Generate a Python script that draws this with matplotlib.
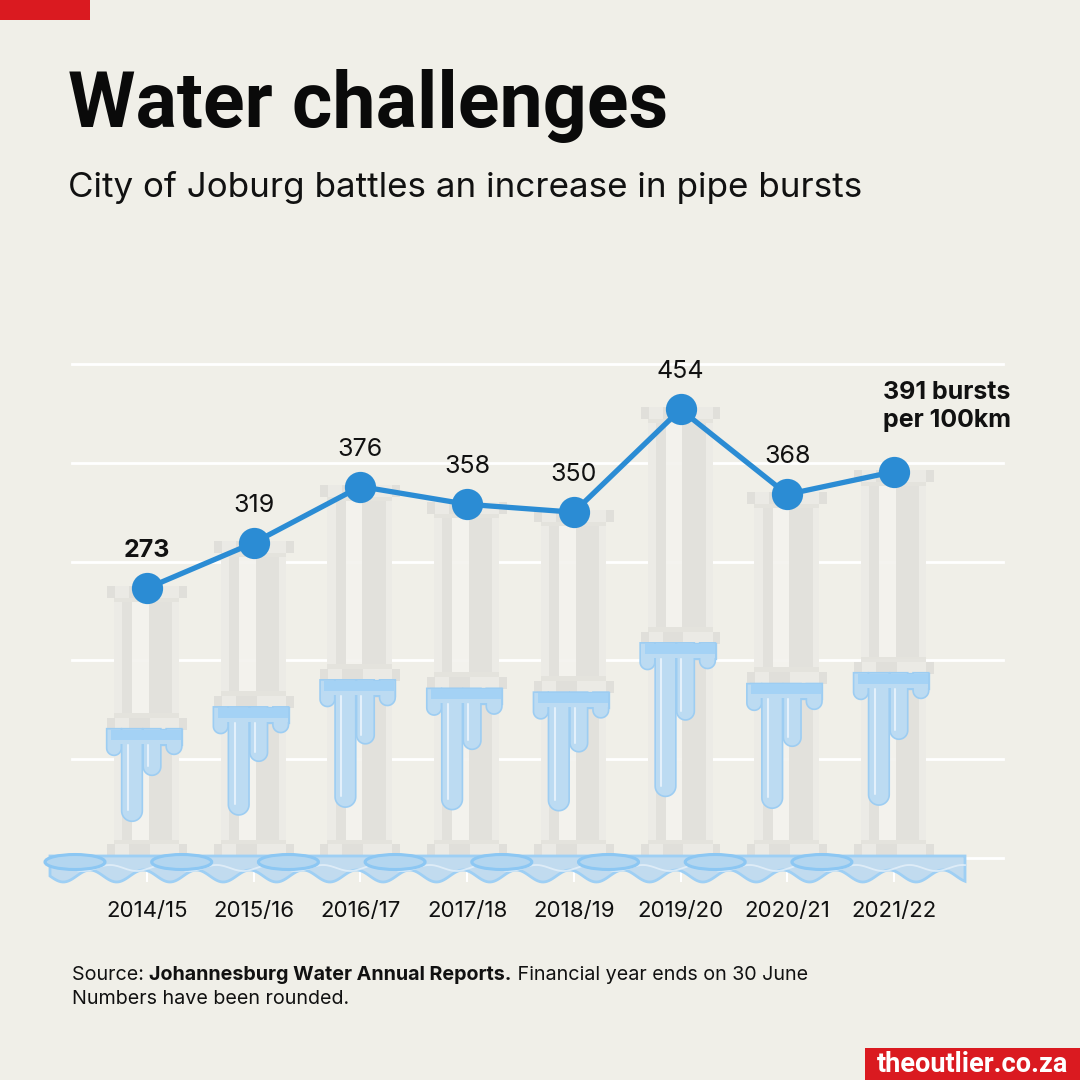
import matplotlib
matplotlib.use('Agg')
import matplotlib.pyplot as plt
from matplotlib.patches import Polygon, Ellipse, Rectangle
import numpy as np

# ---------------- data ----------------
years = ['2014/15', '2015/16', '2016/17', '2017/18', '2018/19', '2019/20', '2020/21', '2021/22']
bursts = [273, 319, 376, 358, 350, 454, 368, 391]
yticks = [0, 100, 200, 300, 400, 500]
title = 'Water challenges'
subtitle = 'City of Joburg battles an increase in pipe bursts'
last_label = f'{bursts[-1]} bursts\nper 100km'
source_parts = [('Source: ', 'normal'), ('Johannesburg Water Annual Reports.', 'bold'),
                (' Financial year ends on 30 June', 'normal')]
note = 'Numbers have been rounded.'
brand = 'theoutlier.co.za'

TXT = ['Inter', 'DejaVu Sans']
plt.rcParams['font.family'] = TXT

BG = '#F0EFE8'
BLUE = '#2B8CD4'
RED = '#DA1A20'
W = H = 1080
fig = plt.figure(figsize=(10.8, 10.8), dpi=100, facecolor=BG)

X0, XSTEP = 147.0, 106.7
YB, YT = 858.0, 364.0
AXL, AXR = 72.0, 1003.0
ax = fig.add_axes([AXL / W, 1 - YB / H, (AXR - AXL) / W, (YB - YT) / H])
ax.set_xlim((AXL - X0) / XSTEP, (AXR - X0) / XSTEP)
ax.set_ylim(yticks[0], yticks[-1])
ax.patch.set_visible(False)
for s in ax.spines.values():
    s.set_visible(False)
ax.set_axisbelow(True)
ax.set_yticks(yticks)
ax.yaxis.grid(True, color='white', lw=2)
for gl in ax.get_ygridlines():
    gl.set_clip_on(False)
ax.tick_params(axis='y', length=0, labelleft=False)
ax.set_xticks(range(len(years)))
ax.set_xticklabels(years, fontsize=16, color='#111111')
ax.tick_params(axis='x', length=17, width=1.5, color='white', pad=14)

SX = XSTEP
SY = (YB - YT) / (yticks[-1] - yticks[0])


def to_data(xc, yref, pts):
    return [(xc + dx / SX, yref - dy / SY) for dx, dy in pts]


def poly(xc, yref, pts, face, z, edge='none', lw=0, alpha=1.0):
    p = Polygon(to_data(xc, yref, pts), closed=True, facecolor=face, edgecolor=edge,
                lw=lw, zorder=z, alpha=alpha, clip_on=False)
    ax.add_patch(p)


def rect(xc, yref, x0, y0, x1, y1, color, z=2, alpha=0.92):
    poly(xc, yref, [(x0, y0), (x1, y0), (x1, y1), (x0, y1)], color, z, alpha=alpha)


DARK = '#E1E0DB'
LIGHT = '#F4F3EE'
EDGE_L = '#ECEBE6'
FL_LIGHT = '#EBEAE5'
FL_DARK = '#E0DFDA'
BAR = '#E3E2DD'


def flange(xc, yref, top):
    h = 12
    rect(xc, yref, -40, top, 40, top + h, FL_LIGHT)
    rect(xc, yref, -40, top, -32, top + h, FL_DARK, 2.1)
    rect(xc, yref, -18, top, 3, top + h, FL_DARK, 2.1)
    rect(xc, yref, 32, top, 40, top + h, FL_DARK, 2.1)


def body(xc, yref, top, bottom):
    left, w = -33, 65
    rect(xc, yref, left, top, left + w, bottom, LIGHT)
    rect(xc, yref, left, top, left + 0.128 * w, bottom, EDGE_L, 2.05)
    rect(xc, yref, left + 0.128 * w, top, left + 0.282 * w, bottom, DARK, 2.05)
    rect(xc, yref, left + 0.538 * w, top, left + 0.897 * w, bottom, DARK, 2.05)
    rect(xc, yref, left + 0.897 * w, top, left + w, bottom, EDGE_L, 2.05)


def capsule(cx, top, bottom, wt, wb, n=24):
    r = wb / 2.0
    pts = [(cx - wt / 2.0, top), (cx - r, bottom - r)]
    for th in np.linspace(np.pi, 0, n):
        pts.append((cx + r * np.cos(th), bottom - r + r * np.sin(th)))
    pts.append((cx + wt / 2.0, top))
    return pts


WATER_EDGE = '#9DCDF2'
WATER_FILL = '#BCDBF2'
WATER_TOP = '#A4D2F5'


def water(xc, yref, jb, L):
    shapes = [
        [(-36, jb + 1), (34, jb + 1), (34, jb + 15), (-36, jb + 15)],
        capsule(-33, jb + 1, jb + 26, 13, 13),
        capsule(-15, jb + 1, jb + L, 19, 19),
        capsule(5, jb + 1, jb + 0.5 * L, 16, 16),
        capsule(27, jb + 1, jb + 25, 14, 14),
    ]
    for s in shapes:
        poly(xc, yref, s, WATER_EDGE, 4, edge=WATER_EDGE, lw=2.4)
    for s in shapes:
        poly(xc, yref, s, WATER_FILL, 4.1)
    rect(xc, yref, -36, jb + 1, 34, jb + 11, WATER_TOP, 4.2, alpha=1)
    for x0, y1 in [(-19, jb + L - 10), (1, jb + 0.5 * L - 8)]:
        hl = to_data(xc, yref, [(x0, jb + 16), (x0, y1)])
        ax.plot([p[0] for p in hl], [p[1] for p in hl], color='#E3F0FB', lw=1.5,
                zorder=4.3, solid_capstyle='round', clip_on=False)


# ---------------- pipes ----------------
for i, v in enumerate(bursts):
    vb = v * SY            # px from point down to baseline
    dj = 0.52 * v * SY     # joint flange bottom offset (px)
    flange(i, v, -2)
    rect(i, v, -33, 10, 32, 14, BAR)
    body(i, v, 14, dj - 16)
    rect(i, v, -33, dj - 16, 32, dj - 11, BAR)
    flange(i, v, dj - 11)
    body(i, v, dj + 1, vb - 18)
    rect(i, v, -33, vb - 18, 32, vb - 14, BAR)
    flange(i, v, vb - 14)
    L = 0.71 * (vb - dj)
    water(i, v, dj, L)

# ---------------- puddle ----------------
def px2d(px, py):
    return ((px - X0) / SX, (YB - py) / SY)

xs = np.linspace(50, 965, 500)
bot = 876 + 6 * np.sin(2 * np.pi * (xs - 50) / 53.3)
top = np.full_like(xs, 856.0)
pts = [px2d(x, y) for x, y in zip(xs, top)] + [px2d(x, y) for x, y in zip(xs[::-1], bot[::-1])]
ax.add_patch(Polygon(pts, closed=True, facecolor='#C1DBEF', edgecolor='#9ECFF4', lw=2,
                     zorder=5, clip_on=False))
hly = 868 + 3 * np.sin(2 * np.pi * (xs - 70) / 53.3)
hp = [px2d(x, y) for x, y in zip(xs, hly)]
ax.plot([p[0] for p in hp], [p[1] for p in hp], color='#E6F1FA', lw=1.3, zorder=5.2,
        clip_on=False, alpha=0.8)
for i in range(len(bursts)):
    cx, cy = px2d(X0 + i * XSTEP - 72, 862)
    ax.add_patch(Ellipse((cx, cy), 60 / SX, 15 / SY, facecolor='#B3D6F0',
                         edgecolor='#8CC7F3', lw=2.2, zorder=5.5, clip_on=False))

# ---------------- line ----------------
xi = np.arange(len(bursts))
ax.plot(xi, bursts, color=BLUE, lw=3.8, marker='o', ms=22.5, mew=0, zorder=10,
        clip_on=False)

for i, v in enumerate(bursts[:-1]):
    ax.annotate(f'{v}', (i, v), xytext=(0, 27), textcoords='offset points',
                ha='center', va='center', fontsize=18, color='#111111',
                fontweight='bold' if i == 0 else 'normal', zorder=11)
ax.annotate(last_label, (len(bursts) - 1, bursts[-1]), xytext=(-8, 47),
            textcoords='offset points', ha='left', va='center', fontsize=18,
            fontweight='bold', color='#111111', linespacing=1.3, zorder=11)

# ---------------- titles ----------------
fig.patches.append(Rectangle((0, 1 - 20 / H), 90 / W, 20 / H, transform=fig.transFigure,
                             facecolor=RED, edgecolor='none'))
fig.text(68 / W, 1 - 127 / H, title, fontsize=55.5, fontweight='bold', va='baseline',
         color='#0A0A0A', family=['Roboto', 'DejaVu Sans'])
fig.text(68 / W, 1 - 197 / H, subtitle, fontsize=25.2, va='baseline', color='#111111')

# source line with mixed weights
r = fig.canvas.get_renderer()
xpos = 72.0
for txt, wt in source_parts:
    t = fig.text(xpos / W, 1 - 980 / H, txt, fontsize=14.2, fontweight=wt, va='baseline',
                 color='#111111')
    bb = t.get_window_extent(r)
    xpos = bb.x1
fig.text(72 / W, 1 - 1004 / H, note, fontsize=14.2, va='baseline', color='#111111')

fig.patches.append(Rectangle((865 / W, 0), (W - 865) / W, 32 / H, transform=fig.transFigure,
                             facecolor=RED, edgecolor='none'))
fig.text(973 / W, 16 / H, brand, fontsize=19.5, fontweight='bold', color='white',
         ha='center', va='center', family=['Roboto', 'DejaVu Sans'])

fig.savefig('out.png', dpi=100, facecolor=BG)
